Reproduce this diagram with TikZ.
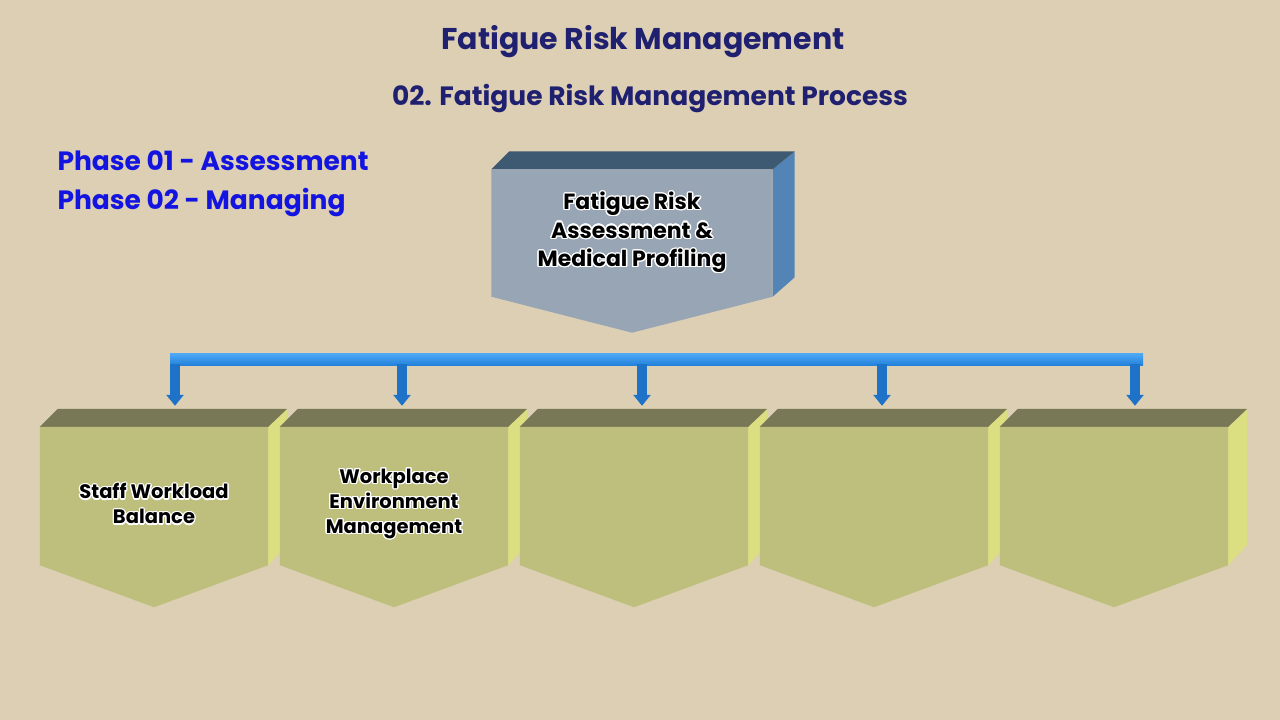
\documentclass[tikz,border=0pt]{standalone}
\usepackage{fontspec}
\setmainfont{Poppins}
\usepackage{contour}
\contourlength{1.3pt}
\usetikzlibrary{positioning, arrows.meta, calc, backgrounds}

\definecolor{paper}{RGB}{220,207,180}
\definecolor{navy}{RGB}{32,32,112}
\definecolor{phaseblue}{RGB}{20,20,225}
\definecolor{slatefront}{RGB}{152,165,180}
\definecolor{slatetop}{RGB}{62,90,115}
\definecolor{slateside}{RGB}{82,132,182}
\definecolor{olivefront}{RGB}{190,190,125}
\definecolor{olivetop}{RGB}{120,120,86}
\definecolor{oliveside}{RGB}{220,222,130}
\definecolor{barlight}{RGB}{80,170,245}
\definecolor{bardark}{RGB}{35,130,220}
\definecolor{dropblue}{RGB}{30,115,200}

\newcommand{\halo}[1]{\contour{white}{#1}}

\begin{document}
\begin{tikzpicture}[x=1pt, y=-1pt, node distance=240pt, on grid,
    >={Triangle[width=17pt,length=11pt]},
    title/.style={text=navy, font=\bfseries\fontsize{30}{36}\selectfont},
    subtitle/.style={text=navy, font=\bfseries\fontsize{26.5}{32}\selectfont},
    phase/.style={text=phaseblue, anchor=west, font=\bfseries\fontsize{26.5}{32}\selectfont},
    topbox/.style={minimum width=281pt, minimum height=127pt, inner sep=0pt, align=center,
        font=\bfseries\fontsize{22}{28.5}\selectfont},
    stagebox/.style={minimum width=228pt, minimum height=138pt, inner sep=0pt},
    stagetext/.style={align=center, inner sep=0pt, yshift=-8.5pt,
        font=\bfseries\fontsize{19.5}{25}\selectfont},
    drop/.style={->, draw=dropblue, line width=10pt}]

    % Titles
    \node[title] (t1) at (643,42) {Fatigue Risk Management};
    \node[subtitle] (t2) at (650,99) {02. Fatigue Risk Management Process};
    \node[phase] (p1) at (54,161) {Phase 01 - Assessment};
    \node[phase] (p2) at (54,203) {Phase 02 - Managing};

    % Top box
    \node[topbox] (fra) at (632,233) {\halo{Fatigue Risk}\\\halo{Assessment \&}\\\halo{Medical Profiling}};

    % Stages
    \node[stagebox, label={[name=l1, stagetext]center:{\halo{Staff Workload}\\\halo{Balance}}}] (b1) at (154,496) {};
    \node[stagebox, label={[name=l2, stagetext]center:{\halo{Workplace}\\\halo{Environment}\\\halo{Management}}}] (b2) [right=of b1] {};
    \node[stagebox] (b3) [right=of b2] {};
    \node[stagebox] (b4) [right=of b3] {};
    \node[stagebox] (b5) [right=of b4] {};

    % Bar
    \node[minimum width=973pt, minimum height=12pt, inner sep=0pt,
        top color=barlight, bottom color=bardark] (bar) at (656.5,359) {};

    \begin{scope}[on background layer]
        \fill[paper] (0,0) rectangle (1280,720);
        % 3D faces of the top box
        \fill[slateside] (fra.north east) -- ++(22,-18) -- ++(0,126) -- (fra.south east) -- cycle;
        \fill[slatetop] (fra.north west) -- ++(18,-18) -- ($(fra.north east)+(22,-18)$) -- (fra.north east) -- cycle;
        \fill[slatefront] (fra.north west) -- (fra.north east) -- (fra.south east)
            -- ($(fra.south)+(0,36)$) -- (fra.south west) -- cycle;
        % 3D faces of the stages
        \foreach \b in {b1,b2,b3,b4,b5} {
            \fill[oliveside] (\b.north east) -- ++(19,-18) -- ++(0,136) -- (\b.south east) -- cycle;
            \fill[olivetop] (\b.north west) -- ++(18,-18) -- ($(\b.north east)+(19,-18)$) -- (\b.north east) -- cycle;
            \fill[olivefront] (\b.north west) -- (\b.north east) -- (\b.south east)
                -- ($(\b.south)+(0,42)$) -- (\b.south west) -- cycle;
        }
    \end{scope}

    % Drops
    \foreach \b/\dx in {b1/21, b2/8, b3/8, b4/8, b5/21}
        \draw[drop] ($(bar.south -| \b.north)+(\dx,-1)$) -- ($(\b.north)+(\dx,-21)$);

\end{tikzpicture}
\end{document}
